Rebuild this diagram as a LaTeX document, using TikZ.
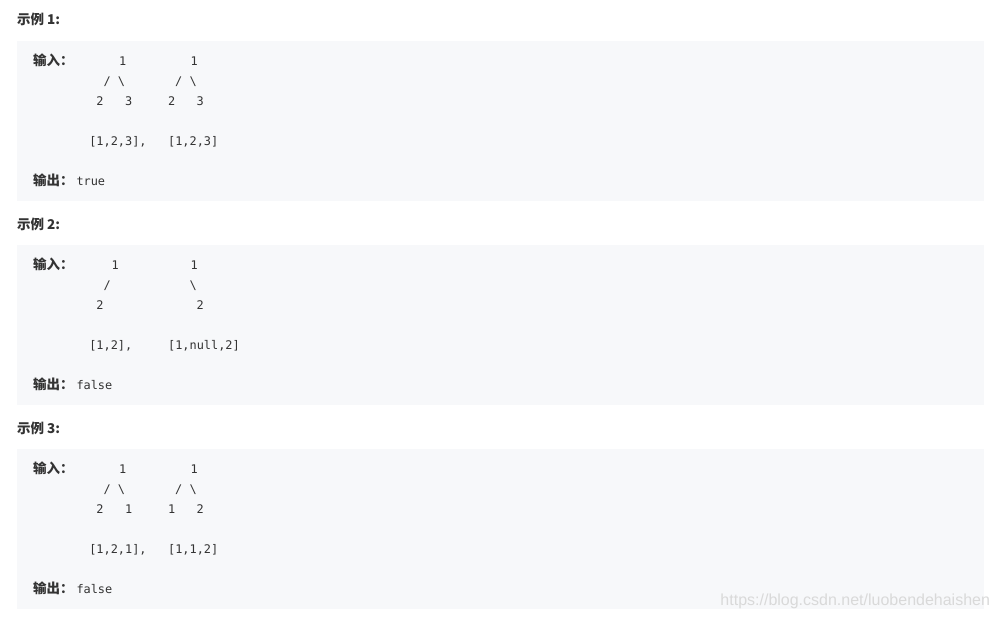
\documentclass[tikz,border=0pt]{standalone}
\usepackage{fontspec}
\usepackage{tikz}
\setmainfont{Noto Sans CJK SC}
\setmonofont{DejaVu Sans Mono}
\newfontfamily\wmfont{Liberation Sans}
\definecolor{panelbg}{HTML}{F7F8FA}
\definecolor{txt}{HTML}{333333}
\definecolor{wmark}{HTML}{D9D9D9}

\begin{document}
\begin{tikzpicture}[
        x=1pt, y=-1pt,
        every node/.style={inner sep=0pt, outer sep=0pt, anchor=base west, text=txt},
        head/.style={font=\fontsize{13.5}{16}\selectfont\bfseries},
        lbl/.style={font=\fontsize{13.5}{16}\selectfont\bfseries},
        code/.style={font=\fontsize{11.9}{14}\selectfont\ttfamily},
        panel/.style={fill=panelbg, draw=none}
        ]

        % Page
        \fill[white] (0,0) rectangle (1000,618);
        \useasboundingbox (0,0) rectangle (1000,618);

        % Grey panels
        \foreach \y in {41,245,449}
            \fill[panel] (17,\y) rectangle (984,\y+160);

        % Example 1
        \node[head] (ex1) at (17,25) {示例 1:};
        \node[lbl] (in1) at (33,65) {输入：};
        \node[code] (t1a) at (119.1,65) {1~~~~~~~~~1};
        \node[code] (t1b) at (103.6,85) {/~\textbackslash~~~~~~~/~\textbackslash};
        \node[code] (t1c) at (96.4,105) {2~~~3~~~~~2~~~3};
        \node[code] (arr1) at (89.3,145) {[1,2,3],~~~[1,2,3]};
        \node[lbl] (out1) at (33,185) {输出：\hspace{3pt}\texttt{\mdseries\fontsize{11.9}{14}\selectfont true}};

        % Example 2
        \node[head] (ex2) at (17,229) {示例 2:};
        \node[lbl] (in2) at (33,269) {输入：};
        \node[code] (t2a) at (111.7,269) {1~~~~~~~~~~1};
        \node[code] (t2b) at (103.6,289) {/~~~~~~~~~~~\textbackslash};
        \node[code] (t2c) at (96.4,309) {2~~~~~~~~~~~~~2};
        \node[code] (arr2) at (89.3,349) {[1,2],~~~~~[1,null,2]};
        \node[lbl] (out2) at (33,389) {输出：\hspace{3pt}\texttt{\mdseries\fontsize{11.9}{14}\selectfont false}};

        % Example 3
        \node[head] (ex3) at (17,433) {示例 3:};
        \node[lbl] (in3) at (33,473) {输入：};
        \node[code] (t3a) at (119.1,473) {1~~~~~~~~~1};
        \node[code] (t3b) at (103.6,493) {/~\textbackslash~~~~~~~/~\textbackslash};
        \node[code] (t3c) at (96.4,513) {2~~~1~~~~~1~~~2};
        \node[code] (arr3) at (89.3,553) {[1,2,1],~~~[1,1,2]};
        \node[lbl] (out3) at (33,593) {输出：\hspace{3pt}\texttt{\mdseries\fontsize{11.9}{14}\selectfont false}};

        % Watermark
        \node[anchor=base east, text=wmark, font=\fontsize{16}{18}\selectfont\wmfont] (wm) at (990,605) {https://blog.csdn.net/luobendehaishen};
    \end{tikzpicture}
\end{document}
